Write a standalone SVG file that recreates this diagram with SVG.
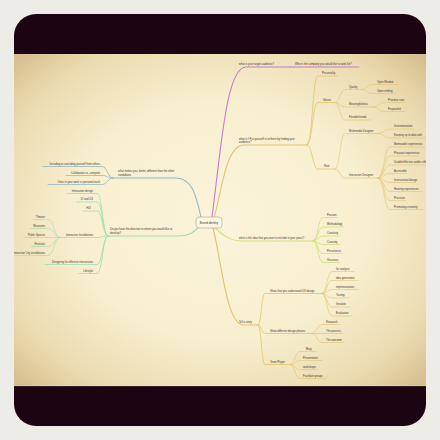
<svg xmlns="http://www.w3.org/2000/svg" width="440" height="440" viewBox="0 0 440 440">
<defs>
<radialGradient id="vig" cx="0.5" cy="0.5" r="0.72">
<stop offset="0" stop-color="#FBF4DB"/>
<stop offset="0.5" stop-color="#F8EFCF"/>
<stop offset="0.8" stop-color="#EBDAAF"/>
<stop offset="1" stop-color="#D2B987"/>
</radialGradient>
<clipPath id="photo"><rect x="14" y="54" width="412" height="332"/></clipPath>
<style>
text{font-family:"Liberation Sans",Arial,sans-serif;font-size:2.7px;fill:#3d3630}
.e{text-anchor:end}
.c path{fill:none;stroke-linecap:round}
.p{stroke:#C77BD0}
.y{stroke:#E2C46E}
.l{stroke:#CDE27A}
.b{stroke:#92B9C4}
.g{stroke:#9DDEB0}
.w1{stroke-width:1.1}
.w2{stroke-width:0.8}
.w3{stroke-width:0.6}
</style>
</defs>
<rect width="440" height="440" fill="#EEECE6"/>
<rect x="14" y="14" width="412" height="412" rx="22" fill="#1D0412"/>
<g clip-path="url(#photo)">
<rect x="14" y="54" width="412" height="332" fill="url(#vig)"/>
<g id="connectors" class="c">
<path class="p w1" d="M212,217 C221,150 226,67 246,67 H290"/>
<path class="p w1" d="M290,67 H359"/>
<path class="y w1" d="M214,218 C222,190 226,145 244,145 H307"/>
<path class="y w2" d="M307,145 C312.5,145 312.5,76 318,76 H338"/>
<path class="y w2" d="M307,145 C312.5,145 312.5,102.5 318,102.5 H335"/>
<path class="y w2" d="M307,145 C312.5,145 312.5,169 318,169 H335"/>
<path class="y w3" d="M335,102.5 C340,102.5 340,89.5 345,89.5 H362"/>
<path class="y w3" d="M335,102.5 C340,102.5 340,107 345,107 H373"/>
<path class="y w3" d="M335,102.5 C340,102.5 340,120 345,120 H371"/>
<path class="y w3" d="M362,89.5 C367,89.5 367,84.5 372,84.5 H398"/>
<path class="y w3" d="M362,89.5 C367,89.5 367,93.5 372,93.5 H395"/>
<path class="y w3" d="M373,107 C378.5,107 378.5,102.5 384,102.5 H406"/>
<path class="y w3" d="M373,107 C378.5,107 378.5,111.5 384,111.5 H405"/>
<path class="y w3" d="M335,169 C340,169 340,133.5 345,133.5 H378"/>
<path class="y w3" d="M335,169 C340,169 340,178 345,178 H378"/>
<path class="y w3" d="M378,133.5 C384,133.5 384,129 390,129 H414"/>
<path class="y w3" d="M378,133.5 C384,133.5 384,138 390,138 H428"/>
<path class="y w3" d="M378,178 C384,178 384,147 390,147 H425"/>
<path class="y w3" d="M378,178 C384,178 384,156 390,156 H418"/>
<path class="y w3" d="M378,178 C384,178 384,165 390,165 H428"/>
<path class="y w3" d="M378,178 C384,178 384,173.5 390,173.5 H407"/>
<path class="y w3" d="M378,178 C384,178 384,182.5 390,182.5 H416"/>
<path class="y w3" d="M378,178 C384,178 384,191.5 390,191.5 H422"/>
<path class="y w3" d="M378,178 C384,178 384,200.5 390,200.5 H406"/>
<path class="y w3" d="M378,178 C384,178 384,209.5 390,209.5 H423"/>
<path class="l w1" d="M214,227 C224,236 230,241 242,241 H313"/>
<path class="l w2" d="M313,241 C318,241 318,217.5 323,217.5 H338"/>
<path class="l w2" d="M313,241 C318,241 318,227 323,227 H344"/>
<path class="l w2" d="M313,241 C318,241 318,236 323,236 H340"/>
<path class="l w2" d="M313,241 C318,241 318,244.5 323,244.5 H340"/>
<path class="l w2" d="M313,241 C318,241 318,253.5 323,253.5 H342"/>
<path class="l w2" d="M313,241 C318,241 318,262.5 323,262.5 H339"/>
<path class="y w1" d="M213,228 C222,262 226,325 244,325 H258"/>
<path class="y w2" d="M258,325 C261.5,325 261.5,293.5 265,293.5 H322"/>
<path class="y w2" d="M258,325 C261.5,325 261.5,333.5 265,333.5 H312"/>
<path class="y w2" d="M258,325 C261.5,325 261.5,364.5 265,364.5 H290"/>
<path class="y w3" d="M322,293.5 C327,293.5 327,271.5 332,271.5 H354"/>
<path class="y w3" d="M322,293.5 C327,293.5 327,280.5 332,280.5 H358"/>
<path class="y w3" d="M322,293.5 C327,293.5 327,289.5 332,289.5 H358"/>
<path class="y w3" d="M322,293.5 C327,293.5 327,298 332,298 H349"/>
<path class="y w3" d="M322,293.5 C327,293.5 327,307 332,307 H350"/>
<path class="y w3" d="M322,293.5 C327,293.5 327,316 332,316 H352"/>
<path class="y w3" d="M312,333.5 C317,333.5 317,324.5 322,324.5 H340"/>
<path class="y w3" d="M312,333.5 C317,333.5 317,333.5 322,333.5 H343"/>
<path class="y w3" d="M312,333.5 C317,333.5 317,342.5 322,342.5 H343"/>
<path class="y w3" d="M290,364.5 C295,364.5 295,351.5 300,351.5 H316"/>
<path class="y w3" d="M290,364.5 C295,364.5 295,360.5 300,360.5 H322"/>
<path class="y w3" d="M290,364.5 C295,364.5 295,369.5 300,369.5 H318"/>
<path class="y w3" d="M290,364.5 C295,364.5 295,378.5 300,378.5 H326"/>
<path class="b w1" d="M201,217 C196,195 192,178 176,178 H113"/>
<path class="b w2" d="M113,178 C107.5,178 107.5,166.5 102,166.5 H43"/>
<path class="b w2" d="M113,178 C107.5,178 107.5,175.5 102,175.5 H66"/>
<path class="b w2" d="M113,178 C107.5,178 107.5,184.5 102,184.5 H48"/>
<path class="g w1" d="M199,227 C193,233 188,236 178,236 H108"/>
<path class="g w2" d="M108,236 C102.5,236 102.5,193.5 97,193.5 H67"/>
<path class="g w2" d="M108,236 C102.5,236 102.5,202 97,202 H77"/>
<path class="g w2" d="M108,236 C102.5,236 102.5,211 97,211 H83"/>
<path class="g w2" d="M108,236 C102.5,236 102.5,237.5 97,237.5 H60"/>
<path class="g w2" d="M108,236 C102.5,236 102.5,264.5 97,264.5 H45"/>
<path class="g w2" d="M108,236 C102.5,236 102.5,273.5 97,273.5 H79"/>
<path class="g w3" d="M60,237.5 C54,237.5 54,219.5 48,219.5 H33"/>
<path class="g w3" d="M60,237.5 C54,237.5 54,228.5 48,228.5 H30"/>
<path class="g w3" d="M60,237.5 C54,237.5 54,237.5 48,237.5 H24"/>
<path class="g w3" d="M60,237.5 C54,237.5 54,246.5 48,246.5 H31"/>
<path class="g w3" d="M60,237.5 C54,237.5 54,255.5 48,255.5 H8"/>
</g>
<g id="n-center"><rect x="196" y="217" width="26" height="11" rx="3" fill="#FBF5E2" stroke="#9a9385" stroke-width="0.5"/><text x="209" y="223.8" text-anchor="middle" style="font-size:3px">Brand identity</text></g>
<g id="n-audience"><text x="239" y="65.2">what is your target audience?</text></g>
<g id="n-company"><text x="295" y="65.2">Who is the company you would like to work for?</text></g>
<g id="n-putyourself"><text x="239" y="139.5">what is I Put yourself in to there by finding your</text><text x="239" y="143.2">audience?</text></g>
<g id="n-personality"><text x="322" y="74.3">Personality</text></g>
<g id="n-values"><text x="323" y="100.8">Values</text></g>
<g id="n-role"><text x="324" y="167.3">Role</text></g>
<g id="n-quality"><text x="349" y="87.8">Quality</text></g>
<g id="n-meaning"><text x="349" y="105.3">Meaningfulness</text></g>
<g id="n-flex"><text x="349" y="118.3">Flexible/trends</text></g>
<g id="n-openminded"><text x="377" y="82.8">Open Minded</text></g>
<g id="n-openending"><text x="377" y="91.8">Open ending</text></g>
<g id="n-prioritise"><text x="388" y="100.8">Prioritise user</text></g>
<g id="n-purposeful"><text x="388" y="109.8">Purposeful</text></g>
<g id="n-multimedia"><text x="349" y="131.8">Multimedia Designer</text></g>
<g id="n-interaction"><text x="349" y="176.3">Interaction Designer</text></g>
<g id="n-instrumentation"><text x="394" y="127.3">Instrumentation</text></g>
<g id="n-keeping"><text x="394" y="136.3">Keeping up to date with</text></g>
<g id="n-memorable"><text x="394" y="145.3">Memorable experiences</text></g>
<g id="n-pleasant"><text x="394" y="154.3">Pleasant experiences</text></g>
<g id="n-usable"><text x="394" y="163.3">Usable/effective and/or efficient</text></g>
<g id="n-accessible"><text x="394" y="171.8">Accessible</text></g>
<g id="n-instructional"><text x="394" y="180.8">Instructional design</text></g>
<g id="n-hearing"><text x="394" y="189.8">Hearing experiences</text></g>
<g id="n-precision"><text x="394" y="198.8">Precision</text></g>
<g id="n-promoting"><text x="394" y="207.8">Promoting creativity</text></g>
<g id="n-idea"><text x="239" y="239.3">what is the idea that you want to include in your years?</text></g>
<g id="n-passion"><text x="327" y="215.8">Passion</text></g>
<g id="n-methodology"><text x="327" y="225.3">Methodology</text></g>
<g id="n-creativity"><text x="327" y="234.3">Creativity</text></g>
<g id="n-curiosity"><text x="327" y="242.8">Curiosity</text></g>
<g id="n-persistence"><text x="327" y="251.8">Persistence</text></g>
<g id="n-vivacious"><text x="327" y="260.8">Vivacious</text></g>
<g id="n-story"><text x="239" y="323.3">Tell a story</text></g>
<g id="n-ux"><text x="270" y="291.8">Show that you understand UX design</text></g>
<g id="n-phases"><text x="270" y="331.8">Show different design phases</text></g>
<g id="n-team"><text x="270" y="362.8">Team Player</text></g>
<g id="n-analysis"><text x="336" y="269.8">for analysis</text></g>
<g id="n-ideagen"><text x="336" y="278.8">idea generation</text></g>
<g id="n-implementation"><text x="336" y="287.8">implementation</text></g>
<g id="n-testing"><text x="336" y="296.3">Testing</text></g>
<g id="n-iteration"><text x="336" y="305.3">Iteration</text></g>
<g id="n-evaluation"><text x="336" y="314.3">Evaluation</text></g>
<g id="n-research"><text x="326" y="322.8">Research</text></g>
<g id="n-process"><text x="326" y="331.8">The process</text></g>
<g id="n-outcome"><text x="326" y="340.8">The outcome</text></g>
<g id="n-blog"><text x="306" y="349.8">Blog</text></g>
<g id="n-presentation"><text x="303" y="358.8">Presentation</text></g>
<g id="n-workshops"><text x="303" y="367.8">workshops</text></g>
<g id="n-facilitate"><text x="303" y="376.8">Facilitate groups</text></g>
<g id="n-better"><text x="118" y="172">what makes you, better, different than the other</text><text x="118" y="175.8">candidates</text></g>
<g id="n-including"><text class="e" x="100" y="164.8">Including or excluding yourself from others</text></g>
<g id="n-collaborate"><text class="e" x="100" y="173.8">Collaborate vs. compete</text></g>
<g id="n-ones"><text class="e" x="100" y="182.8">Ones in your work vs personal work</text></g>
<g id="n-direction"><text x="110" y="230">Do you have the direction to where you would like to</text><text x="110" y="233.8">develop?</text></g>
<g id="n-ixdesign"><text class="e" x="93" y="191.8">Interaction design</text></g>
<g id="n-uiux"><text class="e" x="93" y="200.3">UI and UX</text></g>
<g id="n-hui"><text class="e" x="91" y="209.3">HUI</text></g>
<g id="n-installations"><text class="e" x="93" y="235.8">Interactive Installations</text></g>
<g id="n-designing"><text class="e" x="93" y="262.8">Designing for effective interactions</text></g>
<g id="n-lifestyle"><text class="e" x="93" y="271.8">Lifestyle</text></g>
<g id="n-theatre"><text class="e" x="45" y="217.8">Theatre</text></g>
<g id="n-museums"><text class="e" x="45" y="226.8">Museums</text></g>
<g id="n-public"><text class="e" x="45" y="235.8">Public Spaces</text></g>
<g id="n-festivals"><text class="e" x="45" y="244.8">Festivals</text></g>
<g id="n-city"><text class="e" x="45" y="253.8">Interactive City installations</text></g>
</g>
<rect x="14" y="385.6" width="412" height="0.6" fill="#E9E2CF" opacity="0.6"/>
</svg>
